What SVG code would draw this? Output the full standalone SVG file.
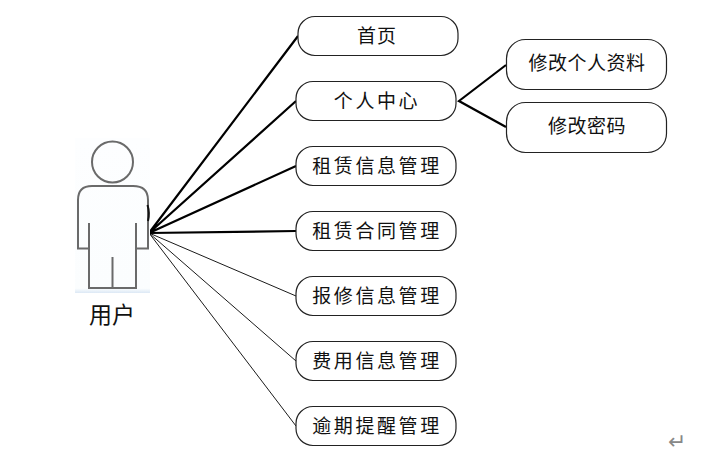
<svg xmlns="http://www.w3.org/2000/svg" width="720" height="455" viewBox="0 0 720 455">
<defs>
<linearGradient id="glow" x1="0" y1="0" x2="0" y2="1"><stop offset="0" stop-color="#fdfeff"/><stop offset="0.97" stop-color="#fbfdfe"/><stop offset="1" stop-color="#dce8f5"/></linearGradient>
</defs>
<style>
.n{fill:#fff;stroke:#222;stroke-width:1.2}
.t{font-family:"Noto Sans CJK SC","Noto Sans CJK JP",sans-serif;font-size:19px;fill:#111;text-anchor:middle}
.w{letter-spacing:2.6px}
.c{stroke:#000;fill:none}
.p{fill:none;stroke:#6a6a6a;stroke-width:2}
</style>
<rect width="720" height="455" fill="#fff"/>
<g id="connectors">
<path class="c" stroke-width="2.2" d="M149 233L298 36M149 233L296 101M149 233L296 166M149 233L296 231"/>
<path class="c" stroke-width="0.9" d="M149 233L296 296M149 233L296 361M149 233L296 426"/>
<path class="c" stroke-width="2.2" d="M506 65L459 101L506 127"/>
</g>
<g id="user">
<rect x="75" y="138" width="75" height="155" fill="url(#glow)"/>
<circle cx="112.500" cy="162" r="20.500" class="p"/>
<path class="p" d="M89 248.500H78V200Q78 186 92 186H133Q148 186 148 200V248.500H136M89 223V288H136V223M112.500 257V288"/>
<path d="M147.500 205Q150 213 148 221" fill="none" stroke="#111" stroke-width="2"/>
<text class="t" x="112" y="323" style="font-size:23px">用户</text>
</g>
<g id="home"><rect class="n" x="298" y="16.500" width="160" height="39" rx="17"/><text class="t" x="377" y="43" style="letter-spacing:1px">首页</text></g>
<g id="center"><rect class="n" x="296" y="81.500" width="160" height="39" rx="17"/><text class="t w" x="377" y="108">个人中心</text></g>
<g id="rental-info"><rect class="n" x="296" y="146.500" width="160" height="39" rx="17"/><text class="t w" x="377" y="173">租赁信息管理</text></g>
<g id="contract"><rect class="n" x="296" y="211.500" width="160" height="39" rx="17"/><text class="t w" x="377" y="238">租赁合同管理</text></g>
<g id="repair"><rect class="n" x="296" y="276.500" width="160" height="39" rx="17"/><text class="t w" x="377" y="303">报修信息管理</text></g>
<g id="fee"><rect class="n" x="296" y="341.500" width="160" height="39" rx="17"/><text class="t w" x="377" y="368">费用信息管理</text></g>
<g id="overdue"><rect class="n" x="296" y="406.500" width="160" height="39" rx="17"/><text class="t w" x="377" y="433">逾期提醒管理</text></g>
<g id="edit-profile"><rect class="n" x="506.500" y="39.500" width="160" height="50" rx="19"/><text class="t" x="587" y="70" style="letter-spacing:.5px">修改个人资料</text></g>
<g id="edit-password"><rect class="n" x="506.500" y="102.500" width="160" height="50" rx="19"/><text class="t" x="587" y="133" style="letter-spacing:.5px">修改密码</text></g>
<text x="677" y="449" font-family="DejaVu Sans, sans-serif" font-size="22" fill="#888" text-anchor="middle">↵</text>
</svg>
